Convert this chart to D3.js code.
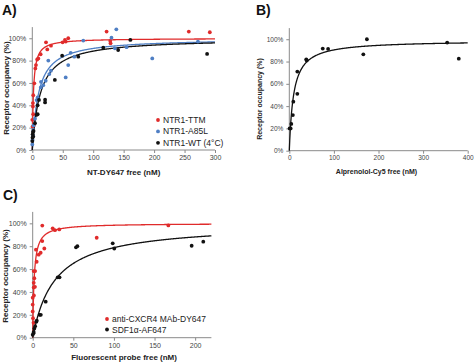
<!DOCTYPE html>
<html>
<head>
<meta charset="utf-8">
<script src="https://cdn.jsdelivr.net/npm/d3@7"></script>
<style>
  body { margin: 0; background: #fff; }
  svg { font-family: "Liberation Sans", Arial, sans-serif; }
</style>
</head>
<body>
<div id="plot_area"></div>
<script>
// ---- data (free probe nM, occupancy %) ----
var ttmX = [0,0.5,1,1,1.5,1.6,2.8,3.3,5,6,8,9.9,13.7,22.5,24.6,30.7,49.8,53.6,55,59,122,128,128.5,257,291.5]
var ttmY = [27,21,42,39,32,49,22.4,59.7,73,76,81,82,85.7,96.4,90,93.4,96.4,98.5,97,100,106,97.6,95.5,106,105.4]

var a85lX = [0,0.5,1,1.5,2,4.4,7,8.8,14,14.3,18,22,26.3,28,30.6,54.8,59,63,69,83.7,130,135.6,138,154.8,197,272]
var a85lY = [5,9,13,18,22,28,44.7,47,56,61,58,62,80,68,71,65,76,87,83.5,97.9,100.5,91,108,92,82,97]

var wtX = [0,0.3,0.6,1,1.5,2,4.4,7,8.8,8.8,11,21,21,37,49,75.5,116.5,141,161,287]
var wtY = [8,11,14,16,12,17,24,31.5,32,40,44.8,45,42.6,62.7,84.4,83.5,91.6,89.5,98.5,86]

var alpX = [0.7,3,4.5,8,9,18,18,38,39,75,87,166,174,354,380]
var alpY = [20,20,24,32,44,51,71,82,81,91.6,91.3,86.5,100,97,82.6]

var mabX = [0,0,0,0.4,1,1.2,1.2,1.2,1.5,2,2.8,3,4,4.9,7.4,9.8,11.8,11.8,14.3,24.6,27.4,32.7,78.8,167]
var mabY = [23,29,35,17,13,58.3,44,48,37,52,44.5,58.3,77,66.4,72.6,74.3,84.5,98,78,95.6,94,94.7,87.4,98.2]

var sdfX = [0,1,1.2,2,3,4.5,5,8.6,10,16,30.8,33,53.3,55,98.5,100.4,195.7,210]
var sdfY = [2.5,4,5,8,10,14,15,20,20,31.5,52.8,52.8,79,80,82.5,78,80.4,84]

// fitted one-site curves: [Bmax %, Kd nM]
var ttmFit = [100, 1.8]
var a85lFit = [100, 10]
var wtFit = [100, 13]
var alpFit = [99, 9.5]
var mabFit = [100, 1.7]
var sdfFit = [100, 27]

var yTicks = [0, 20, 40, 60, 80, 100]
var xTicksA = [0, 50, 100, 150, 200, 250, 300]
var xTicksB = [0, 100, 200, 300, 400]
var xTicksC = [0, 50, 100, 150, 200]

var RED = "#e02b2b", BLUE = "#4f7fc4", BLACK = "#111"

var Svg = d3.select("#plot_area").append("svg")
  .attr("width", 474).attr("height", 363)

function zip(xs, ys) { return xs.map(function(v, i) { return {x: v, y: ys[i]} }) }

function drawPanel(p) {
  var g = Svg.append("g")
  var x = d3.scaleLinear().domain([0, p.xmax]).range([p.left, p.right])
  var y = d3.scaleLinear().domain([0, 110]).range([p.bottom, p.top])

  // y axis
  var ya = g.append("g").attr("transform", "translate(" + p.left + ",0)")
    .call(d3.axisLeft(y).tickValues(yTicks).tickSize(3).tickPadding(3).tickFormat(function(d) { return d + "%" }))
  // x axis
  var xa = g.append("g").attr("transform", "translate(0," + p.bottom + ")")
    .call(d3.axisBottom(x).tickValues(p.xticks).tickSize(3).tickPadding(2))
  g.selectAll(".domain").attr("stroke", "#8a8a8a")
  ya.select(".domain").attr("d", "M0," + p.bottom + "V" + p.top)
  xa.select(".domain").attr("d", "M" + p.left + ",0H" + p.right)
  g.selectAll(".tick line").attr("stroke", "#8a8a8a")
  g.selectAll(".tick text").attr("fill", "#444").style("font-size", p.tick + "px")

  // fit curves
  p.series.forEach(function(s) {
    var pts = d3.range(0, p.xmax + 0.01, p.xmax / 400).map(function(v) {
      return {x: v, y: s.fit[0] * v / (s.fit[1] + v)}
    })
    g.append("path").datum(pts)
      .attr("fill", "none").attr("stroke", s.color).attr("stroke-width", 1.3)
      .attr("d", d3.line().x(function(d) { return x(d.x) }).y(function(d) { return y(d.y) }))
  })
  // points
  p.series.forEach(function(s) {
    g.append("g").selectAll("circle").data(zip(s.xs, s.ys)).enter().append("circle")
      .attr("cx", function(d) { return x(d.x) })
      .attr("cy", function(d) { return y(d.y) })
      .attr("r", 1.9).attr("fill", s.color)
  })

  // titles
  g.append("text").attr("x", (p.left + p.right) / 2 + p.xtOff).attr("y", p.xtY)
    .attr("text-anchor", "middle").attr("font-weight", "bold").style("font-size", p.title + "px")
    .attr("fill", "#222").text(p.xlabel)
  g.append("text").attr("transform", "translate(" + p.ytX + "," + p.ytCy + ")rotate(-90)")
    .attr("text-anchor", "middle").attr("font-weight", "bold").style("font-size", p.title + "px")
    .attr("fill", "#222").text("Receptor occupancy (%)")
  g.append("text").attr("x", p.lx).attr("y", p.ly).attr("font-weight", "bold")
    .style("font-size", "14px").attr("fill", "#111").text(p.label)

  // legend
  if (p.legend) {
    p.series.forEach(function(s, i) {
      var ly = p.legend[1] + i * p.legend[2]
      g.append("circle").attr("cx", p.legend[0]).attr("cy", ly).attr("r", 1.9).attr("fill", s.color)
      g.append("text").attr("x", p.legend[0] + 5).attr("y", ly + 3).style("font-size", p.legend[3] + "px")
        .attr("fill", "#222").text(s.name)
    })
  }
}

drawPanel({
  label: "A)", lx: 2, ly: 15, left: 32.3, right: 215, top: 27.1, bottom: 150, xmax: 300,
  xticks: xTicksA, xlabel: "NT-DY647 free (nM)", xtY: 175, xtOff: 0, ytX: 9, ytCy: 88, tick: 7, title: 8,
  legend: [158, 120, 11.4, 8.5],
  series: [
    {name: "NTR1-TTM", xs: ttmX, ys: ttmY, fit: ttmFit, color: RED},
    {name: "NTR1-A85L", xs: a85lX, ys: a85lY, fit: a85lFit, color: BLUE},
    {name: "NTR1-WT (4°C)", xs: wtX, ys: wtY, fit: wtFit, color: BLACK}
  ]
})

drawPanel({
  label: "B)", lx: 256, ly: 15, left: 289.3, right: 467.7, top: 28.1, bottom: 150.7, xmax: 400,
  xticks: xTicksB, xlabel: "Alprenolol-Cy5 free (nM)", xtY: 174, xtOff: -2, ytX: 262, ytCy: 99, tick: 6.5, title: 7,
  series: [
    {name: "alp", xs: alpX, ys: alpY, fit: alpFit, color: BLACK}
  ]
})

drawPanel({
  label: "C)", lx: 3, ly: 200, left: 32.7, right: 211.4, top: 211.9, bottom: 337.7, xmax: 220,
  xticks: xTicksC, xlabel: "Fluorescent probe free (nM)", xtY: 360, xtOff: 2, ytX: 8, ytCy: 276, tick: 7, title: 8,
  legend: [107, 319, 10.5, 8.5],
  series: [
    {name: "anti-CXCR4 MAb-DY647", xs: mabX, ys: mabY, fit: mabFit, color: RED},
    {name: "SDF1α-AF647", xs: sdfX, ys: sdfY, fit: sdfFit, color: BLACK}
  ]
})
</script>
</body>
</html>
